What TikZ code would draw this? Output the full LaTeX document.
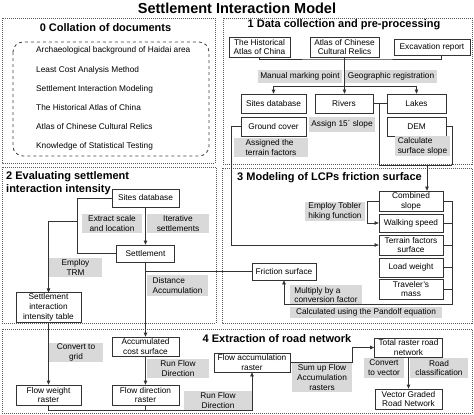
\documentclass[tikz,border=0pt]{standalone}
\usepackage{fontspec}
\setmainfont{Liberation Sans}
\usetikzlibrary{arrows.meta}
\begin{document}
\begin{tikzpicture}[x=1pt,y=-1pt,
  bx/.style={draw=black!80, fill=white, line width=0.7pt, inner sep=1pt, align=center, font=\fontsize{8.3}{9.8}\selectfont},
  lb/.style={fill=black!15, inner sep=1pt, align=center, font=\fontsize{8.3}{9.8}\selectfont},
  lbl/.style={lb, align=left},
  pan/.style={draw=black!65, densely dotted, line width=1pt},
  ttl/.style={font=\fontsize{11}{13}\selectfont\bfseries, inner sep=1pt},
  ln/.style={draw=black!80, line width=0.7pt},
  arr/.style={ln, -{Triangle[length=4pt,width=3.5pt]}},
  doc/.style={anchor=west, inner sep=1pt, font=\fontsize{8.3}{9.8}\selectfont}
]
\useasboundingbox (0,0) rectangle (474,415);

% panels
\draw[pan] (2,18) rectangle (215,163);
\draw[pan] (223,18) rectangle (472,164);
\draw[pan] (2,167) rectangle (216,323);
\draw[pan] (222,168) rectangle (472,323);
\draw[pan] (2,329) rectangle (472,413);
\draw[draw=black!75, dashed, line width=0.8pt, rounded corners=10pt] (13,42) rectangle (209,156);

% titles
\node[font=\fontsize{14.5}{16}\selectfont\bfseries, inner sep=1pt] (title) at (237,8) {Settlement Interaction Model};
\node[ttl] (t0) at (105.5,28) {0 Collation of documents};
\node[ttl] (t1) at (344,25) {1 Data collection and pre-processing};
\node[ttl, anchor=west, align=left] (t2) at (5,183.5) {2 Evaluating settlement\\interaction intensity};
\node[ttl] (t3) at (329.5,178) {3 Modeling of LCPs friction surface};
\node[ttl] (t4) at (277,339) {4 Extraction of road network};

% panel 0
\node[doc] (d1) at (35,50) {Archaeological background of Haidai area};
\node[doc] (d2) at (35,70) {Least Cost Analysis Method};
\node[doc] (d3) at (35,89) {Settlement Interaction Modeling};
\node[doc] (d4) at (35,108) {The Historical Atlas of China};
\node[doc] (d5) at (35,127) {Atlas of Chinese Cultural Relics};
\node[doc] (d6) at (35,146) {Knowledge of Statistical Testing};

% panel 1
\node[bx, minimum width=61pt, minimum height=20pt] (hist) at (259.5,47) {The Historical\\Atlas of China};
\node[bx, minimum width=69pt, minimum height=20pt] (acr) at (344.5,47) {Atlas of Chinese\\Cultural Relics};
\node[bx, minimum width=76pt, minimum height=16pt] (exc) at (432,47) {Excavation report};
\node[lb, minimum width=84pt, minimum height=13pt] (lman) at (300,76.5) {Manual marking point};
\node[lb, minimum width=92pt, minimum height=13pt] (lgeo) at (391,76.5) {Geographic registration};
\node[bx, minimum width=65pt, minimum height=19pt] (sites1) at (273.5,103.5) {Sites database};
\node[bx, minimum width=58pt, minimum height=19pt] (rivers) at (344,103.5) {Rivers};
\node[bx, minimum width=59pt, minimum height=19pt] (lakes) at (416.5,103.5) {Lakes};
\node[bx, minimum width=65pt, minimum height=19pt] (ground) at (273.5,126.5) {Ground cover};
\node[lb, minimum width=66pt, minimum height=15pt] (l15) at (342,124.5) {Assign 15´ slope};
\node[bx, minimum width=59pt, minimum height=19pt] (dem) at (416.5,126.5) {DEM};
\node[lbl, minimum width=74pt, minimum height=19pt] (lterr) at (271,147.5) {Assigned the\\terrain factors};
\node[lbl, minimum width=55pt, minimum height=20pt] (lslope) at (422.5,146) {Calculate\\surface slope};

% panel 3
\node[bx, minimum width=64pt, minimum height=20pt] (comb) at (411,201) {Combined\\slope};
\node[bx, minimum width=64pt, minimum height=18pt] (walk) at (411,223) {Walking speed};
\node[bx, minimum width=64pt, minimum height=20pt] (terr) at (411,245) {Terrain factors\\surface};
\node[bx, minimum width=64pt, minimum height=19pt] (load) at (411,267.5) {Load weight};
\node[bx, minimum width=64pt, minimum height=20pt] (trav) at (411,289) {Traveler's\\mass};
\node[lbl, minimum width=60pt, minimum height=19pt] (ltob) at (335,211.5) {Employ Tobler\\hiking function};
\node[bx, minimum width=64pt, minimum height=17pt] (fric) at (284,271.5) {Friction surface};
\node[lbl, minimum width=72pt, minimum height=20pt] (lmul) at (326,295) {Multiply by a\\conversion factor};
\node[lb, minimum width=152pt, minimum height=11pt] (lpan) at (366,312.5) {Calculated using the Pandolf equation};

% panel 2
\node[bx, minimum width=67pt, minimum height=18pt] (sites2) at (145.5,198) {Sites database};
\node[lb, minimum width=60pt, minimum height=19pt] (lext) at (112,223.5) {Extract scale\\and location};
\node[lb, minimum width=62pt, minimum height=19pt] (lit) at (178,223.5) {Iterative\\settlements};
\node[bx, minimum width=58pt, minimum height=17pt] (settle) at (145.5,253.5) {Settlement};
\node[lb, minimum width=53pt, minimum height=19pt] (ltrm) at (75.5,267.5) {Employ\\TRM};
\node[bx, minimum width=65pt, minimum height=29pt] (sitab) at (48.5,307.5) {Settlement\\interaction\\intensity table};
\node[lbl, minimum width=61pt, minimum height=21pt] (ldist) at (177.5,285.5) {Distance\\Accumulation};

% panel 4
\node[lb, minimum width=54pt, minimum height=19pt] (lgrid) at (76,352.5) {Convert to\\grid};
\node[bx, minimum width=65pt, minimum height=20pt] (fwr) at (48.5,395) {Flow weight\\raster};
\node[bx, minimum width=67pt, minimum height=19pt] (acs) at (145.5,346.5) {Accumulated\\cost surface};
\node[lb, minimum width=62pt, minimum height=19pt] (lrfd1) at (178,368.5) {Run Flow\\Direction};
\node[bx, minimum width=67pt, minimum height=20pt] (fdr) at (145.5,395) {Flow direction\\raster};
\node[lb, minimum width=68pt, minimum height=19pt] (lrfd2) at (218,400.5) {Run Flow\\Direction};
\node[bx, minimum width=76pt, minimum height=19pt] (far) at (252,362.5) {Flow accumulation\\raster};
\node[lb, minimum width=60pt, minimum height=29pt] (lsum) at (322,377.5) {Sum up Flow\\Accumulation\\rasters};
\node[bx, minimum width=68pt, minimum height=19pt] (trrn) at (408.5,347.5) {Total raster road\\network};
\node[lb, minimum width=40pt, minimum height=20pt] (lvec) at (384,368) {Convert\\to vector};
\node[lb, minimum width=58pt, minimum height=20pt] (lroad) at (439,368) {Road\\classification};
\node[bx, minimum width=67pt, minimum height=20pt] (vgrn) at (408.5,399) {Vector Graded\\Road Network};

% connectors panel 1
\coordinate (j1) at (344.5,59);
\draw[ln] (hist.south) |- (j1) -| ([xshift=9pt]exc.south);
\draw[arr] (acr.south) -- (acr.south |- rivers.north);
\coordinate (j2) at (344.5,86);
\draw[arr] (j2) -| (sites1.north);
\draw[arr] (j2) -| (lakes.north);
\draw[ln] (rivers.east) -- (lakes.west);
\coordinate (rv) at (379,103.5);
\coordinate (jb) at (379,165);
\coordinate (jr) at (452,165);
\draw[ln] (rv) -- (jb) -- (jr);
\draw[ln] (dem.east) -| (jr);
\coordinate (ja) at (427,165);
\draw[arr] (ja) -- (ja |- comb.north);
\draw[arr] (ground.west) -- ++(-9,0) |- (terr.west);

% panel 3
\draw[arr] (comb.west) -- ++(-11,0) |- (walk.west);
\coordinate (rb1) at (452,304);
\draw[arr] (comb.east) -| (rb1) -| (fric.south);
\foreach \n in {walk,terr,load,trav} \draw[ln] (\n.east) -- (\n.east -| rb1);
\draw[ln] (fric.west) -- (fric.west -| settle.south);

% panel 2
\draw[arr] (sites2.south) -- (settle.north);
\draw[ln] (sites2.west) -- ++(-34,0) |- (settle.west);
\coordinate (jl) at (78,221);
\draw[arr] (jl) -| (sitab.north);
\draw[arr] (sitab.south) -- (fwr.north);
\draw[arr] (settle.south) -- (acs.north);
\draw[arr] (acs.south) -- (fdr.north);

% panel 4
\coordinate (bot) at (252,410);
\draw[arr] (fwr.south) |- (bot) -- (far.south);
\draw[ln] (fdr.south) -- (fdr.south |- bot);
\draw[arr] (far.east) -- ++(62,0) |- (trrn.west);
\draw[arr] (trrn.south) -- (trrn.south |- vgrn.north);
\end{tikzpicture}
\end{document}
